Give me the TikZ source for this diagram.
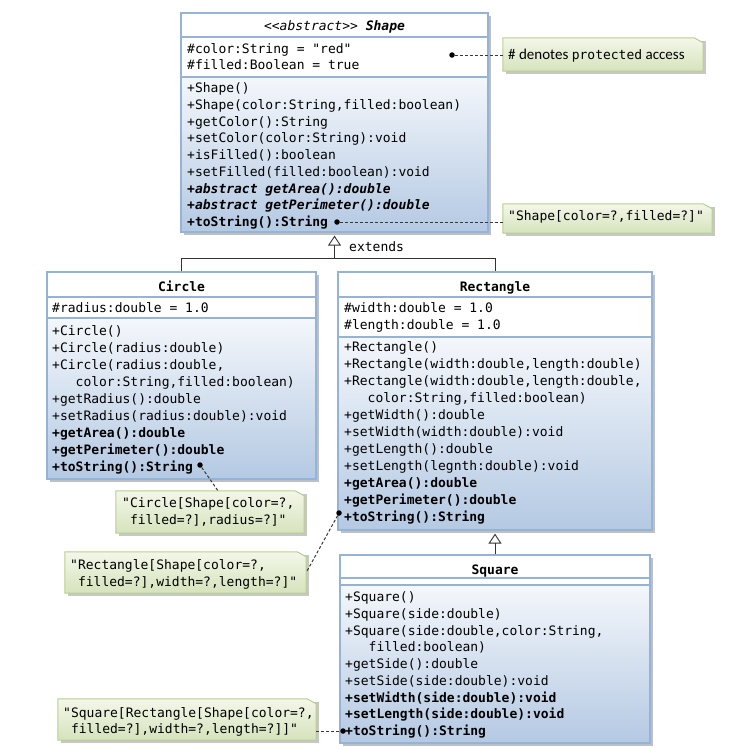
\documentclass[tikz,border=0pt]{standalone}
\usepackage{fontspec}
\setmainfont{Carlito}
\setmonofont{DejaVu Sans Mono}
\usetikzlibrary{arrows.meta}
\definecolor{boxborder}{HTML}{95B3D7}
\definecolor{boxbot}{HTML}{B4C9E3}
\definecolor{boxtop}{HTML}{F4F7FB}
\definecolor{notetop}{HTML}{F3F7E9}
\definecolor{notebot}{HTML}{D6E3BC}
\definecolor{noteborder}{HTML}{B9CF8F}
\definecolor{dashcol}{HTML}{383838}
\tikzset{
  mono/.style={font=\ttfamily\fontsize{13}{17}\selectfont, inner sep=0pt, anchor=base west, text=black},
  hdrtext/.style={font=\ttfamily\bfseries\fontsize{13}{17}\selectfont, inner sep=0pt, anchor=base, text=black},
  notetext/.style={font=\fontsize{15}{18}\selectfont, inner sep=0pt, anchor=base west, text=black},
  dotn/.style={circle, fill=black, inner sep=0pt, minimum size=5.5pt},
  dashline/.style={draw=dashcol, dash pattern=on 3pt off 2pt, line width=1pt},
  inherit/.style={draw=black!80, line width=0.9pt},
  tri/.style={-{Triangle[open, width=13pt, length=10pt, line width=0.9pt]}, shorten >=3pt}
}
% name, left, top, right, bottom, header bottom, attributes bottom
\newcommand\umlclass[7]{%
  \fill[black!25] (#2+2.5,#3+3) rectangle (#4+2.5,#5+2.5);
  \fill[white] (#2,#3) rectangle (#4,#7);
  \shade[top color=boxtop, bottom color=boxbot] (#2,#7) rectangle (#4,#5);
  \node[draw=boxborder, line width=1.2pt, inner sep=0pt,
        minimum width={(#4-#2)*1pt}, minimum height={(#5-#3)*1pt}] (#1) at ({(#2+#4)/2},{(#3+#5)/2}) {};
  \draw[boxborder, line width=1.2pt] (#2,#6) -- (#4,#6) (#2,#7) -- (#4,#7);
}
% name, left, top, right, bottom
\newcommand\umlnote[5]{%
  \fill[black!22] (#2+2.5,#3+3) rectangle (#4+2.5,#5+2.5);
  \node[inner sep=0pt, minimum width={(#4-#2)*1pt}, minimum height={(#5-#3)*1pt}] (#1) at ({(#2+#4)/2},{(#3+#5)/2}) {};
  \shadedraw[top color=notetop, bottom color=notebot, draw=noteborder, line width=1pt]
    (#1.north west) -- ([xshift=-9pt]#1.north east) -- ([yshift=-5pt]#1.north east)
    -- (#1.south east) -- (#1.south west) -- cycle;
}
\begin{document}
\begin{tikzpicture}[x=1pt,y=-1pt]
\useasboundingbox (0,0) rectangle (744,755);

% ---------- Shape ----------
\umlclass{shape}{181}{13}{488}{232}{37}{77}
\node[hdrtext] (shapeh) at (334.5,30.5) {\mdseries\itshape <<abstract>> \bfseries Shape};
\node[mono] (sa0) at (187,53.5) {\#color:String = "red"};
\node[mono] (sa1) at (187,69.5) {\#filled:Boolean = true};
\foreach \t [count=\i from 0] in {
  {+Shape()},
  {+Shape(color:String,filled:boolean)},
  {+getColor():String},
  {+setColor(color:String):void},
  {+isFilled():boolean},
  {+setFilled(filled:boolean):void},
  {\bfseries\itshape +abstract getArea():double},
  {\bfseries\itshape +abstract getPerimeter():double},
  {\bfseries +toString():String}}
  \node[mono] (sm\i) at (187,92.5+16.75*\i) {\t};

% ---------- Circle ----------
\umlclass{circle}{47}{272}{316}{479}{297}{318}
\node[hdrtext] (circleh) at (181.5,291.5) {Circle};
\node[mono] (ca0) at (52,312.5) {\#radius:double = 1.0};
\foreach \t [count=\i from 0] in {
  {+Circle()},
  {+Circle(radius:double)},
  {+Circle(radius:double,},
  {\hphantom{xxx}color:String,filled:boolean)},
  {+getRadius():double},
  {+setRadius(radius:double):void},
  {\bfseries +getArea():double},
  {\bfseries +getPerimeter():double},
  {\bfseries +toString():String}}
  \node[mono] (cm\i) at (52,335.5+17*\i) {\t};

% ---------- Rectangle ----------
\umlclass{rect}{338}{272}{652}{530}{297}{337}
\node[hdrtext] (recth) at (495,291.5) {Rectangle};
\node[mono] (ra0) at (344,312.5) {\#width:double = 1.0};
\node[mono] (ra1) at (344,329.5) {\#length:double = 1.0};
\foreach \t [count=\i from 0] in {
  {+Rectangle()},
  {+Rectangle(width:double,length:double)},
  {+Rectangle(width:double,length:double,},
  {\hphantom{xxx}color:String,filled:boolean)},
  {+getWidth():double},
  {+setWidth(width:double):void},
  {+getLength():double},
  {+setLength(legnth:double):void},
  {\bfseries +getArea():double},
  {\bfseries +getPerimeter():double},
  {\bfseries +toString():String}}
  \node[mono] (rm\i) at (344,351.5+17*\i) {\t};

% ---------- Square ----------
\umlclass{square}{340}{555}{650}{743}{578}{585}
\node[hdrtext] (squareh) at (495,574.5) {Square};
\foreach \t [count=\i from 0] in {
  {+Square()},
  {+Square(side:double)},
  {+Square(side:double,color:String,},
  {\hphantom{xxx}filled:boolean)},
  {+getSide():double},
  {+setSide(side:double):void},
  {\bfseries +setWidth(side:double):void},
  {\bfseries +setLength(side:double):void},
  {\bfseries +toString():String}}
  \node[mono] (qm\i) at (345,601.5+16.75*\i) {\t};

% ---------- inheritance ----------
\coordinate (j1) at (334.5,258);
\draw[inherit] (circle.north) |- (rect.north |- j1) -- (rect.north);
\draw[inherit, tri] (j1) -- (shape.south -| j1);
\node[mono] (ext) at (349,251) {extends};
\draw[inherit, tri] (square.north) -- (rect.south);

% ---------- notes ----------
\umlnote{n1}{503}{38}{703}{71}
\node[notetext] (n1t) at (508,59.5) {\# denotes {\ttfamily\fontsize{13}{17}\selectfont protected} access};
\umlnote{n2}{503}{204}{712}{233}
\node[mono] (n2t) at (508,220) {"Shape[color=?,filled=?]"};
\umlnote{n3}{116}{491}{304}{533}
\node[mono] (n3a) at (122,507) {"Circle[Shape[color=?,};
\node[mono] (n3b) at (122,524) {\hphantom{x}filled=?],radius=?]"};
\umlnote{n4}{65}{552}{306}{593}
\node[mono] (n4a) at (70,569.5) {"Rectangle[Shape[color=?,};
\node[mono] (n4b) at (70,586.5) {\hphantom{x}filled=?],width=?,length=?]"};
\umlnote{n5}{58}{699}{316}{740}
\node[mono] (n5a) at (63,717.5) {"Square[Rectangle[Shape[color=?,};
\node[mono] (n5b) at (63,733.5) {\hphantom{x}filled=?],width=?,length=?]]"};

% ---------- dots and dashed connectors ----------
\node[dotn] (d1) at (452,55) {};
\node[dotn] (d2) at (337,222) {};
\node[dotn] (d3) at (200,465) {};
\node[dotn] (d4) at (339,513) {};
\node[dotn] (d5) at (343,731) {};
\draw[dashline] (d1) -- (n1.west |- d1);
\draw[dashline] (d2) -- (n2.west |- d2);
\draw[dashline] (d3) -- ([xshift=8pt]n3.north);
\draw[dashline] (d4) -- (n4.east);
\draw[dashline] (n5.east |- d5) -- (d5);
\end{tikzpicture}
\end{document}
